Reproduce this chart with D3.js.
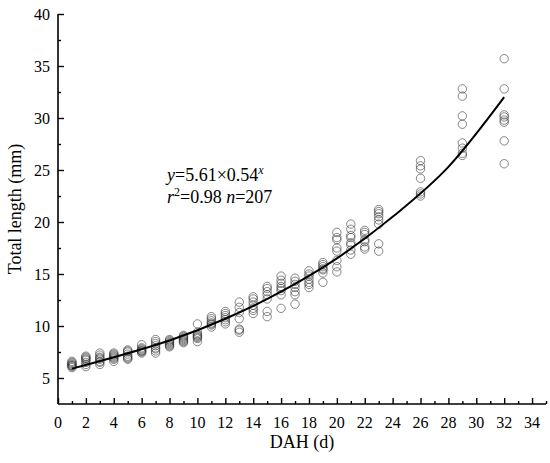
<!DOCTYPE html>
<html>
<head>
<meta charset="utf-8">
<script src="https://cdn.jsdelivr.net/npm/d3@7"></script>
<style>
    body { margin: 0; background: #fff; }
</style>
</head>
<body>
<div id="chart"></div>
<script>
// Sampling days (DAH)
const days = [1, 2, 3, 4, 5, 6, 7, 8, 9, 10, 11, 12, 13, 14, 15, 16, 17, 18, 19, 20, 21, 22, 23, 26, 29, 32];

const lengths = [
    [6.1, 6.2, 6.3, 6.4, 6.5, 6.6, 6.2, 6.0],
    [6.1, 6.5, 6.8, 6.9, 7.0, 7.1, 6.7, 6.3],
    [6.3, 6.6, 6.8, 7.0, 7.2, 7.4, 6.9, 6.5],
    [6.6, 6.9, 7.0, 7.2, 7.3, 7.4, 6.8, 7.1],
    [6.8, 7.0, 7.1, 7.3, 7.5, 7.6, 7.7, 6.9],
    [7.4, 7.6, 7.7, 7.8, 8.2, 7.5, 7.9, 7.6],
    [7.4, 7.6, 7.9, 8.1, 8.3, 8.5, 8.7, 7.8],
    [8.0, 8.1, 8.3, 8.4, 8.5, 8.6, 8.2, 8.7],
    [8.4, 8.6, 8.7, 8.8, 9.0, 9.1, 8.5, 8.9],
    [8.5, 8.8, 9.0, 9.1, 9.4, 10.2, 8.9, 9.2],
    [9.9, 10.1, 10.3, 10.5, 10.7, 10.9, 10.2],
    [10.2, 10.4, 10.8, 11.0, 11.2, 11.4, 10.6],
    [9.4, 9.6, 9.7, 10.7, 11.3, 11.8, 12.3],
    [11.2, 11.5, 12.0, 12.3, 12.6, 12.8, 11.7],
    [10.9, 11.4, 12.6, 13.0, 13.3, 13.6, 13.8],
    [11.7, 13.0, 13.4, 13.8, 14.1, 14.4, 14.8, 13.6],
    [12.1, 13.0, 13.3, 13.7, 14.0, 14.3, 14.6],
    [13.7, 14.0, 14.5, 14.8, 15.0, 15.3, 14.2],
    [14.2, 15.1, 15.4, 15.7, 15.9, 16.1, 15.5],
    [15.2, 15.7, 16.3, 17.2, 17.5, 18.3, 18.5, 19.0],
    [16.9, 17.3, 17.8, 18.0, 18.5, 18.7, 19.3, 19.8],
    [17.4, 17.6, 18.3, 18.8, 19.0, 19.2, 18.1],
    [17.2, 17.9, 19.8, 20.2, 20.5, 20.8, 21.0, 21.2],
    [25.9, 25.4, 25.1, 24.2, 22.9, 22.7, 22.5],
    [32.8, 32.1, 30.2, 29.4, 27.6, 27.1, 26.6, 26.4],
    [35.7, 32.8, 30.3, 30.1, 29.8, 29.6, 27.8, 25.6]
];

// Fitted curve, points
const fitX = [1, 4, 8, 12, 16, 20, 24, 28, 32];
const fitY = [5.9, 7.0, 8.6, 10.7, 13.3, 16.5, 20.5, 25.3, 32.0];

// Ticks
const xTicks = d3.range(0, 35, 2);
const xMinor = d3.range(1, 36, 2);
const yTicks = [5, 10, 15, 20, 25, 30, 35, 40];
const yMinor = [7.5, 12.5, 17.5, 22.5, 27.5, 32.5, 37.5];

const serif = "'Liberation Serif', 'Times New Roman', Times, serif";
const width = 550, height = 463;
const margin = { top: 14, right: 4, bottom: 59, left: 58 };

const svg = d3.select("#chart").append("svg")
    .attr("width", width)
    .attr("height", height)
    .attr("font-family", serif)
    .style("font-family", serif);

const x = d3.scaleLinear().domain([0, 35]).range([margin.left, width - margin.right]);
const y = d3.scaleLinear().domain([2.5, 40]).range([height - margin.bottom, margin.top]);

const plotBottom = y(2.5);

// x axis: ticks point inward (up)
const xAxis = svg.append("g").attr("transform", `translate(0,${plotBottom})`);
xAxis.call(d3.axisTop(x).tickValues(xTicks).tickSize(6).tickFormat(""));
xAxis.append("g").call(d3.axisTop(x).tickValues(xMinor).tickSize(3).tickFormat(""));
xAxis.selectAll("path").remove();
xAxis.append("line")
    .attr("x1", x(0)).attr("x2", x(35))
    .attr("stroke", "#000").attr("stroke-width", 1.6);
xAxis.selectAll(".tick line").attr("stroke", "#000").attr("stroke-width", 1.4);

svg.selectAll(".xlabel")
    .data(xTicks)
    .enter().append("text")
    .attr("class", "xlabel")
    .attr("x", d => x(d))
    .attr("y", plotBottom + 24)
    .attr("text-anchor", "middle")
    .style("font-family", serif)
    .style("font-size", "16px")
    .text(d => d);

// y axis: ticks point inward (right)
const yAxis = svg.append("g").attr("transform", `translate(${x(0)},0)`);
yAxis.call(d3.axisRight(y).tickValues(yTicks).tickSize(6).tickFormat(""));
yAxis.append("g").call(d3.axisRight(y).tickValues(yMinor).tickSize(3).tickFormat(""));
yAxis.selectAll("path").remove();
yAxis.append("line")
    .attr("y1", y(2.5)).attr("y2", y(40))
    .attr("stroke", "#000").attr("stroke-width", 1.6);
yAxis.selectAll(".tick line").attr("stroke", "#000").attr("stroke-width", 1.4);

svg.selectAll(".ylabel")
    .data(yTicks)
    .enter().append("text")
    .attr("class", "ylabel")
    .attr("x", x(0) - 8)
    .attr("y", d => y(d))
    .attr("dy", ".35em")
    .attr("text-anchor", "end")
    .style("font-family", serif)
    .style("font-size", "16px")
    .text(d => d);

// Axis titles
svg.append("text")
    .attr("x", (x(0) + x(35)) / 2)
    .attr("y", 448)
    .attr("text-anchor", "middle")
    .style("font-family", serif)
    .style("font-size", "18px")
    .text("DAH (d)");

svg.append("text")
    .attr("transform", `translate(21,${(y(2.5) + y(40)) / 2}) rotate(-90)`)
    .attr("text-anchor", "middle")
    .style("font-family", serif)
    .style("font-size", "18px")
    .text("Total length (mm)");

// Scatter points
const points = [];
days.forEach((d, i) => lengths[i].forEach(v => points.push({ day: d, len: v })));

svg.selectAll(".pt")
    .data(points)
    .enter().append("circle")
    .attr("class", "pt")
    .attr("cx", d => x(d.day))
    .attr("cy", d => y(d.len))
    .attr("r", 4.2)
    .attr("fill", "none")
    .attr("stroke", "#333")
    .attr("stroke-opacity", 0.65)
    .attr("stroke-width", 0.9);

// Fitted curve
svg.append("path")
    .datum(fitX.map((d, i) => [d, fitY[i]]))
    .attr("d", d3.line().x(d => x(d[0])).y(d => y(d[1])).curve(d3.curveMonotoneX))
    .attr("fill", "none")
    .attr("stroke", "#000")
    .attr("stroke-width", 2);

// Equation annotation
const eq1 = svg.append("text").attr("x", 167).attr("y", 181)
    .style("font-family", serif).style("font-size", "18px");
eq1.append("tspan").style("font-style", "italic").text("y");
eq1.append("tspan").text("=5.61×0.54");
eq1.append("tspan").style("font-style", "italic").style("font-size", "12px").attr("dy", -7).text("x");

const eq2 = svg.append("text").attr("x", 167).attr("y", 203)
    .style("font-family", serif).style("font-size", "18px");
eq2.append("tspan").style("font-style", "italic").text("r");
eq2.append("tspan").style("font-size", "12px").attr("dy", -7).text("2");
eq2.append("tspan").attr("dy", 7).text("=0.98 ");
eq2.append("tspan").style("font-style", "italic").text("n");
eq2.append("tspan").text("=207");
</script>
</body>
</html>
